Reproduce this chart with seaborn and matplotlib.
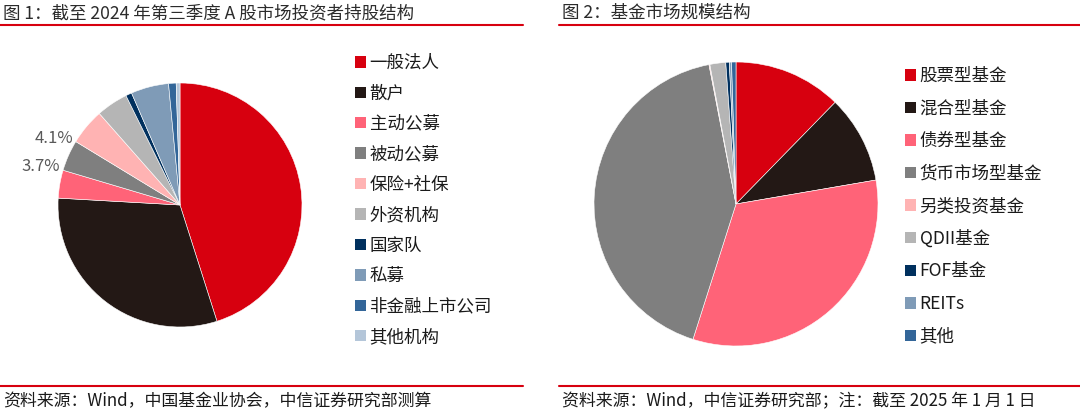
import numpy as np
import matplotlib
matplotlib.use('Agg')
import matplotlib.pyplot as plt
from matplotlib.patches import Patch
from matplotlib.lines import Line2D
import seaborn as sns

# data
holder_labels = ['一般法人', '散户', '主动公募', '被动公募', '保险+社保',
                 '外资机构', '国家队', '私募', '非金融上市公司', '其他机构']
holder_share = [45.1, 30.8, 3.7, 4.1, 4.8, 4.2, 0.8, 5.0, 1.0, 0.5]
holder_shown = ['主动公募', '被动公募']

fund_labels = ['股票型基金', '混合型基金', '债券型基金', '货币市场型基金', '另类投资基金',
               'QDII基金', 'FOF基金', 'REITs', '其他']
fund_share = [12.3, 10.0, 32.6, 42.05, 0.1, 1.8, 0.4, 0.25, 0.5]

title1 = '图 1：截至 2024 年第三季度 A 股市场投资者持股结构'
title2 = '图 2：基金市场规模结构'
source1 = '资料来源：Wind，中国基金业协会，中信证券研究部测算'
source2 = '资料来源：Wind，中信证券研究部；注：截至 2025 年 1 月 1 日'

sns.set_theme(style='white')
plt.rcParams['font.family'] = ['Noto Sans CJK SC', 'DejaVu Sans']

pal = sns.color_palette(['#D7000F', '#231815', '#FF6378', '#7F7F7F', '#FFB3B3',
                         '#B5B5B5', '#00305E', '#7F9BB7', '#336699', '#B4C6D9'])
colors1 = pal
colors2 = pal[:9]

W, H = 1080, 418
FS = 12.6
fig = plt.figure(figsize=(W / 100, H / 100), dpi=100)


def fx(px):
    return px / W


def fy(py):
    return 1 - py / H


def pie_axes(cx, cy, r):
    return fig.add_axes([fx(cx - r), fy(cy + r), 2 * r / W, 2 * r / H])


# left pie
ax1 = pie_axes(180, 205, 122)
wedges1, _ = ax1.pie(holder_share, colors=colors1, startangle=90, counterclock=False,
                     wedgeprops=dict(edgecolor='white', linewidth=0.4))
ax1.set_xlim(-1, 1)
ax1.set_ylim(-1, 1)
for w, lab, v in zip(wedges1, holder_labels, holder_share):
    if lab in holder_shown:
        ang = np.deg2rad((w.theta1 + w.theta2) / 2 - 8)
        ax1.text(1.03 * np.cos(ang), 1.03 * np.sin(ang), f'{v:.1f}%',
                 ha='right', va='center', fontsize=12, color='#595959')

# right pie
ax2 = pie_axes(736, 204, 142)
ax2.pie(fund_share, colors=colors2, startangle=90, counterclock=False,
        wedgeprops=dict(edgecolor='white', linewidth=0.4))
ax2.set_xlim(-1, 1)
ax2.set_ylim(-1, 1)

# legends
h1 = [Patch(facecolor=c, edgecolor='none') for c in colors1]
fig.legend(h1, holder_labels, loc='upper left', bbox_to_anchor=(fx(355), fy(54)),
           frameon=False, fontsize=FS, handlelength=0.63, handleheight=0.63,
           handletextpad=0.2, labelspacing=0.71, borderpad=0, borderaxespad=0,
           labelcolor='#1a1a1a')
h2 = [Patch(facecolor=c, edgecolor='none') for c in colors2]
fig.legend(h2, fund_labels, loc='upper left', bbox_to_anchor=(fx(905), fy(67)),
           frameon=False, fontsize=FS, handlelength=0.63, handleheight=0.63,
           handletextpad=0.2, labelspacing=0.83, borderpad=0, borderaxespad=0,
           labelcolor='#1a1a1a')

# titles, rules and sources
for x0, x1, title, src in [(0, 523, title1, source1), (559, 1080, title2, source2)]:
    fig.text(fx(x0 + 3), fy(13), title, fontsize=FS, color='#2b2b2b', ha='left', va='center')
    fig.text(fx(x0 + 3), fy(401), src, fontsize=12.2, color='#1a1a1a', ha='left', va='center')
    for yy in (24.5, 385.5):
        fig.add_artist(Line2D([fx(x0), fx(x1)], [fy(yy), fy(yy)], color='#D7000F',
                              linewidth=1.5, transform=fig.transFigure))

fig.savefig('out.png', dpi=100)
